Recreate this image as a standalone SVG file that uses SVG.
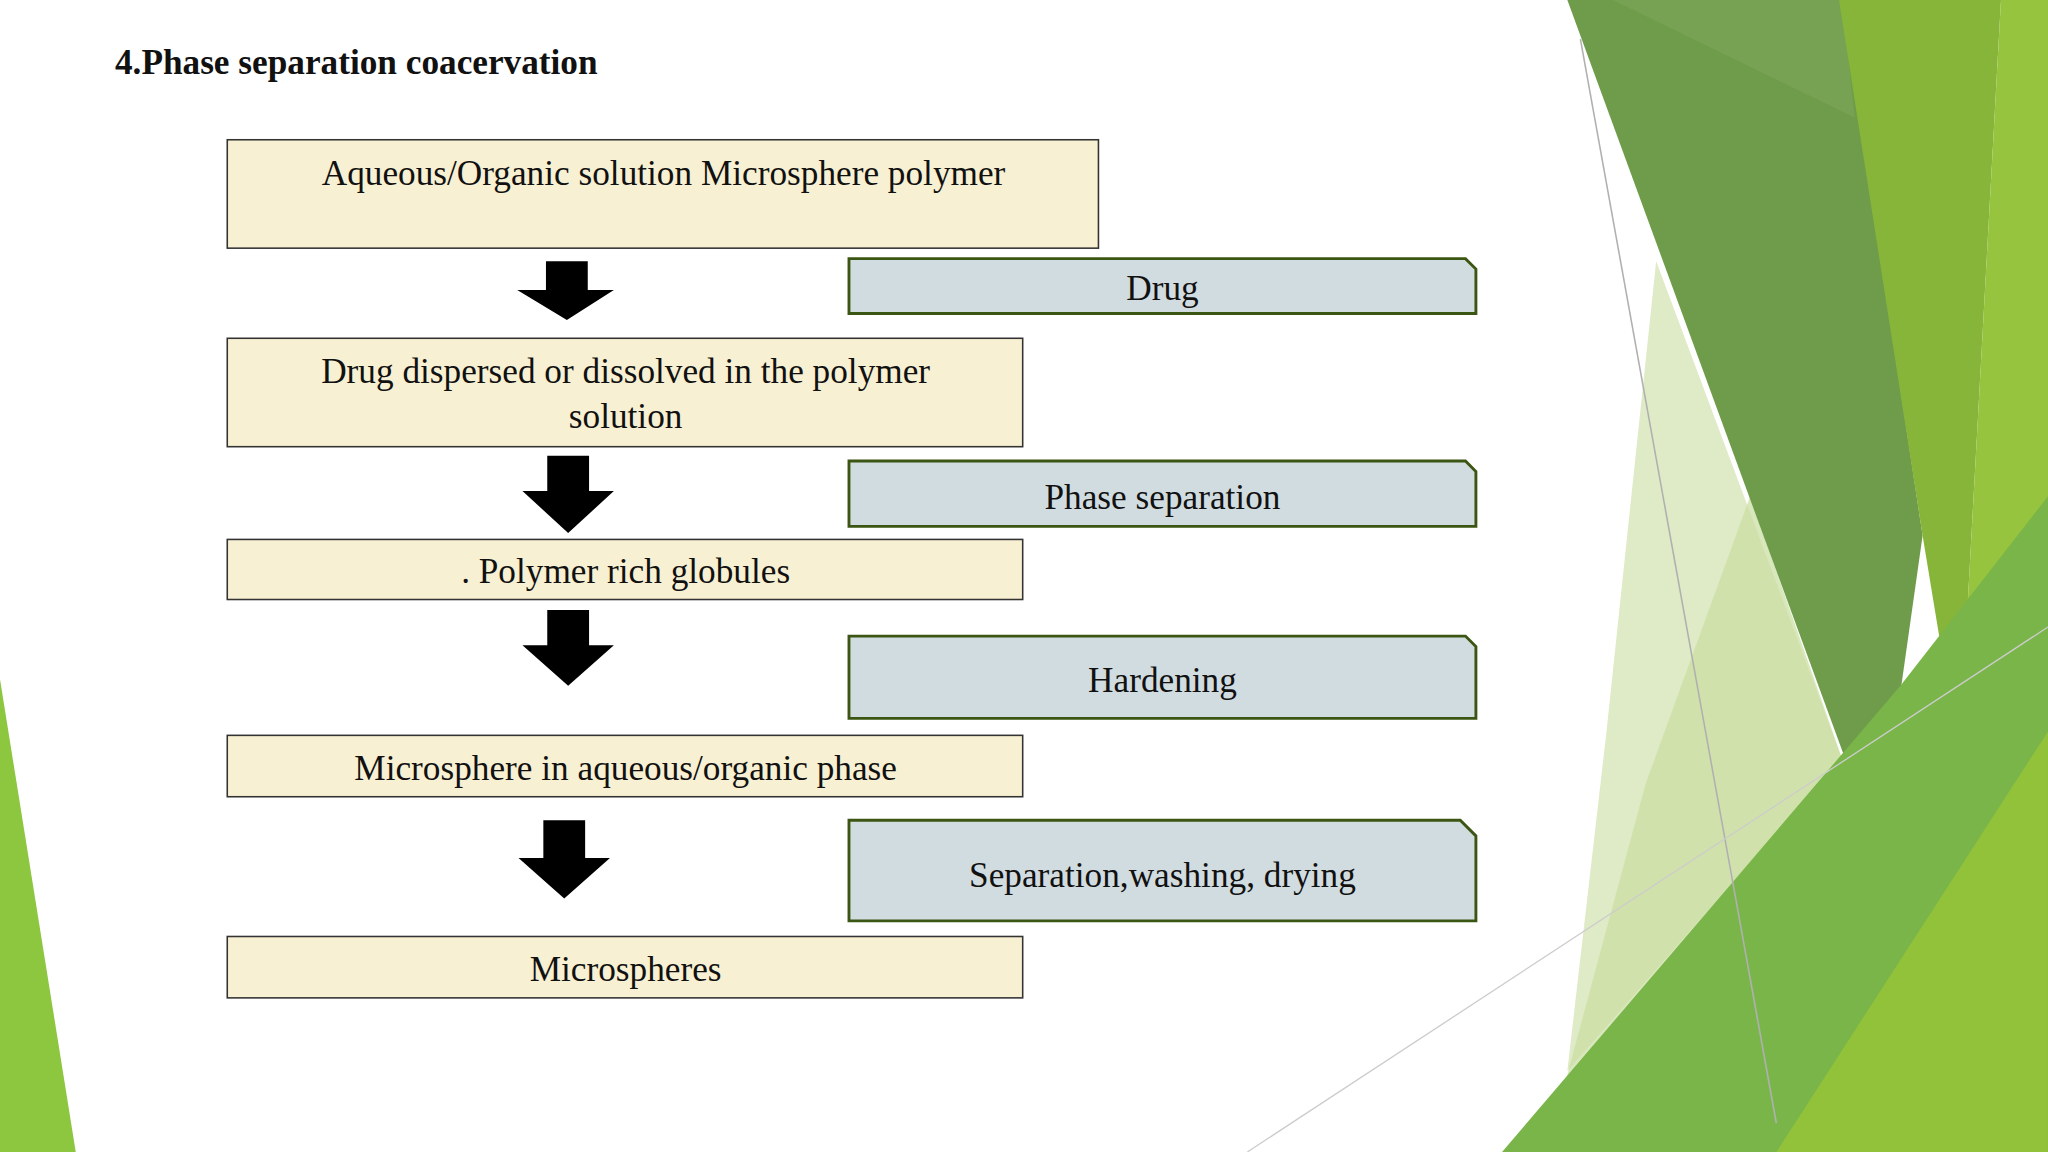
<svg xmlns="http://www.w3.org/2000/svg" width="2048" height="1152" viewBox="0 0 2048 1152">
<style>
.y{fill:#f8f0d2;stroke:#333;stroke-width:1.2}
.g{fill:#d1dce0;stroke:#3b5512;stroke-width:2.2}
.t{font-family:"Liberation Serif",serif;font-size:27px;fill:#111;text-anchor:middle}
.a{fill:#000}
</style>
<rect width="2048" height="1152" fill="#fff"/>
<g transform="scale(1.30612)">
<g id="background">
<polygon points="1268,200 1410,580 1200,820 1230,560" fill="#dfeac6"/>
<polygon points="1340,380 1410,580 1190,860 1260,600" fill="#c9dd9f" opacity="0.7"/>
<polygon points="1200,0 1410,0 1472,410 1438,650" fill="#6f9c4a"/>
<polygon points="1235,0 1410,0 1420,90" fill="#7aa455" opacity="0.8"/>
<polygon points="1408,0 1532,0 1500,580 1472,410" fill="#86b53a"/>
<polygon points="1532,0 1568,0 1568,882 1470,882 1500,580" fill="#96c43e"/>
<polygon points="1150,882 1455,525 1568,380 1568,882" fill="#7ab54a"/>
<polygon points="1360,882 1568,560 1568,882" fill="#92c13a"/>
<polygon points="0,520 58,882 0,882" fill="#8dc63f"/>
<line x1="1210" y1="30" x2="1360" y2="860" stroke="#b0b0b0" stroke-width="1.2"/>
<line x1="955" y1="882" x2="1568" y2="480" stroke="#cccccc" stroke-width="1"/>
</g>
<text x="88" y="57" font-family="Liberation Serif,serif" font-size="27" font-weight="bold" fill="#111">4.Phase separation coacervation</text>
<g id="connectors">
<polygon class="a" points="418,200 450,200 450,222 470,222 434,245 396,222 418,222"/>
<polygon class="a" points="419,349 451,349 451,376 470,376 435,408 400,376 419,376"/>
<polygon class="a" points="419,467 451,467 451,494 470,494 435,525 400,494 419,494"/>
<polygon class="a" points="416,628 448,628 448,657 467,657 432,688 397,657 416,657"/>
</g>
<g id="n1"><rect class="y" x="174" y="107" width="667" height="83"/><text class="t" x="508" y="142">Aqueous/Organic solution Microsphere polymer</text></g>
<g id="n2"><rect class="y" x="174" y="259" width="609" height="83"/><text class="t" x="479" y="293">Drug dispersed or dissolved in the polymer</text><text class="t" x="479" y="328">solution</text></g>
<g id="n3"><rect class="y" x="174" y="413" width="609" height="46"/><text class="t" x="479" y="446">. Polymer rich globules</text></g>
<g id="n4"><rect class="y" x="174" y="563" width="609" height="47"/><text class="t" x="479" y="597">Microsphere in aqueous/organic phase</text></g>
<g id="n5"><rect class="y" x="174" y="717" width="609" height="47"/><text class="t" x="479" y="751">Microspheres</text></g>
<g id="s1"><polygon class="g" points="650,198 1122,198 1130,206 1130,240 650,240"/><text class="t" x="890" y="230">Drug</text></g>
<g id="s2"><polygon class="g" points="650,353 1122,353 1130,361 1130,403 650,403"/><text class="t" x="890" y="390">Phase separation</text></g>
<g id="s3"><polygon class="g" points="650,487 1122,487 1130,495 1130,550 650,550"/><text class="t" x="890" y="530">Hardening</text></g>
<g id="s4"><polygon class="g" points="650,628 1118,628 1130,640 1130,705 650,705"/><text class="t" x="890" y="679">Separation,washing, drying</text></g>
</g>
</svg>
